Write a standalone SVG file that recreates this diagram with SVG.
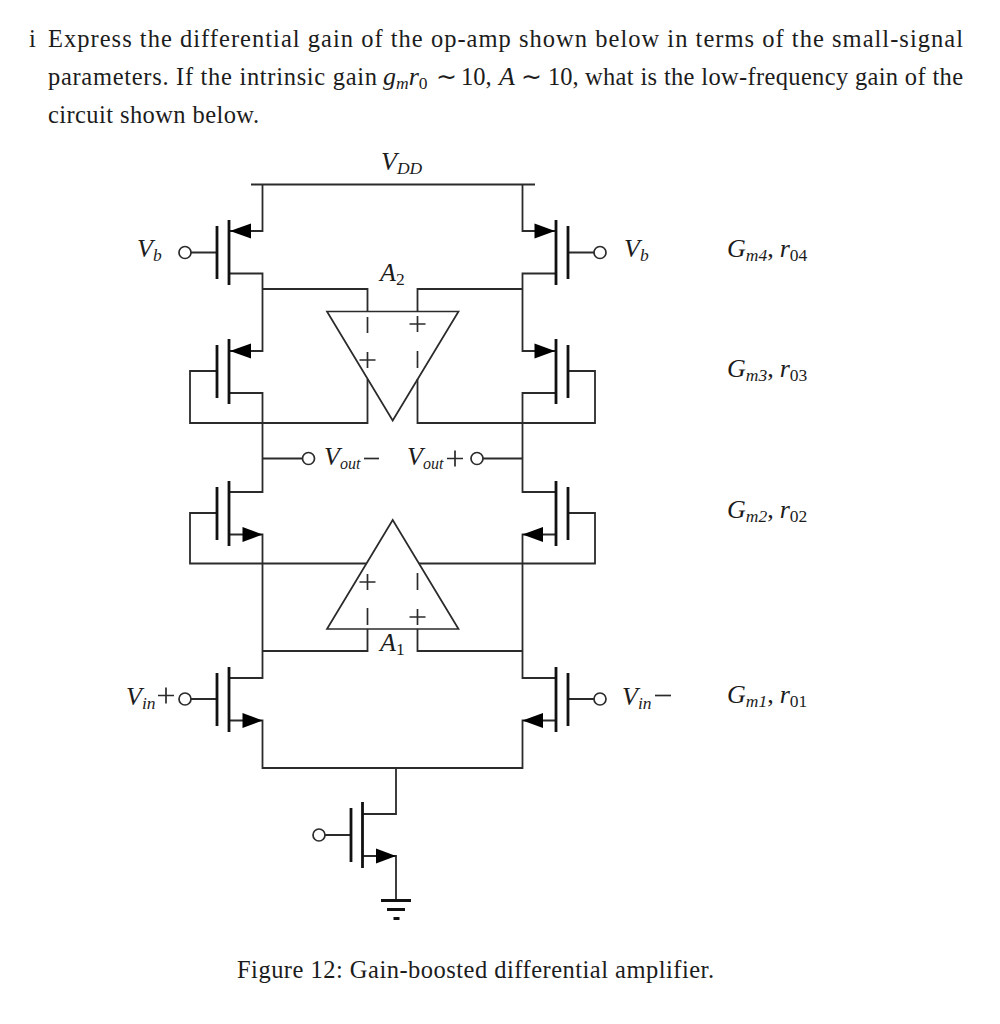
<svg xmlns="http://www.w3.org/2000/svg" width="1000" height="1024" viewBox="0 0 1000 1024">
<style>
text{font-family:"Liberation Serif","Times New Roman",serif;fill:#1c1c1c;font-size:24.5px}
.i{font-style:italic;font-size:26px}
.s{font-size:17.5px}
.o{font-size:16px}
.w{fill:none;stroke:#2b2b2b;stroke-width:1.8;stroke-linejoin:miter}
.p{fill:none;stroke:#111;stroke-width:2.8}
.c{fill:#fff;stroke:#2b2b2b;stroke-width:1.7}
.a{fill:#000}
.t{fill:none;stroke:#2b2b2b;stroke-width:1.7}
</style>
<defs>
<g id="chL"><path class="p" d="M229 0V65M217 6V59"/></g>
<g id="chR"><path class="p" d="M556 0V65M568 6V59"/></g>
</defs>
<rect width="1000" height="1024" fill="#fff"/>
<g id="question">
<text x="29" y="47">i</text>
<text x="48" y="47" textLength="915" lengthAdjust="spacing">Express the differential gain of the op-amp shown below in terms of the small-signal</text>
<text x="48" y="85" textLength="329" lengthAdjust="spacing">parameters. If the intrinsic gain</text>
<text x="383" y="85" class="i">g<tspan class="s" dy="4">m</tspan><tspan dy="-4">r</tspan><tspan class="s" dy="4" font-style="normal">0</tspan></text>
<text x="436" y="85">∼</text>
<text x="461" y="85">10,</text>
<text x="499" y="85" class="i">A</text>
<text x="521" y="85">∼</text>
<text x="548" y="85">10,</text>
<text x="585" y="85" textLength="378" lengthAdjust="spacing">what is the low-frequency gain of the</text>
<text x="48" y="123" textLength="211" lengthAdjust="spacing">circuit shown below.</text>
</g>
<g id="connectors">
<path class="w" d="M251 184.5H535M262.5 184.5V231H229M522.5 184.5V231H556"/>
<path class="w" d="M229 273.5H262.5V351H229M556 273.5H522.5V351H556"/>
<path class="w" d="M262.5 289H367.5V311M522.5 289H417.5V311"/>
<path class="w" d="M229 393H262.5V492H229M556 393H522.5V492H556"/>
<path class="w" d="M217 371H190V423H367.5V379M568 371H595V423H417.5V379"/>
<path class="w" d="M262.5 458.5H302M522.5 458.5H483"/>
<path class="w" d="M229 534.5H262.5V678H229M556 534.5H522.5V678H556"/>
<path class="w" d="M217 513H190V563.5H366M568 513H595V563.5H419"/>
<path class="w" d="M262.5 651H367.5V629M522.5 651H417.5V629"/>
<path class="w" d="M229 720.5H262.5V768H522.5V720.5H556"/>
<path class="w" d="M396 768V814H362.5M362.5 856H396V900.5"/>
<path class="w" d="M217 252.5H191M568 252.5H594M217 699H191M568 699H594M351 835H325"/>
<path class="p" d="M381 900.5H411M387 909.5H405M393.5 918.5H399.5"/>
</g>
<g id="M4L"><use href="#chL" y="220"/><path class="a" d="M230 231L251 223.5V238.5Z"/><circle class="c" cx="185" cy="252.5" r="6"/></g>
<g id="M4R"><use href="#chR" y="220"/><path class="a" d="M555 231L534.5 223.5V238.5Z"/><circle class="c" cx="600" cy="252.5" r="6"/></g>
<g id="M3L"><use href="#chL" y="339"/><path class="a" d="M230 351L251 343.5V358.5Z"/></g>
<g id="M3R"><use href="#chR" y="339"/><path class="a" d="M555 351L534.5 343.5V358.5Z"/></g>
<g id="M2L"><use href="#chL" y="481"/><path class="a" d="M262.5 534.5L242.5 527V542Z"/></g>
<g id="M2R"><use href="#chR" y="481"/><path class="a" d="M522.5 534.5L543 527V542Z"/></g>
<g id="M1L"><use href="#chL" y="667"/><path class="a" d="M262.5 720.5L242.5 713V728Z"/><circle class="c" cx="185" cy="699" r="6"/></g>
<g id="M1R"><use href="#chR" y="667"/><path class="a" d="M522.5 720.5L543 713V728Z"/><circle class="c" cx="600" cy="699" r="6"/></g>
<g id="Mtail"><path class="p" d="M362.5 802V868M351 808V862"/><path class="a" d="M396 856L376 848.5V863.5Z"/><circle class="c" cx="319" cy="835" r="6"/></g>
<g id="A2"><path class="t" d="M327 311.5H458.5L392.7 420.5Z"/><path class="t" d="M367.5 317V333M409.5 324H425.5M417.5 316V332M359.5 360H375.5M367.5 352V368M417.5 351V368"/></g>
<g id="A1"><path class="t" d="M327 629H458.5L392.7 520Z"/><path class="t" d="M367.5 608V625M409.5 617H425.5M417.5 609V625M359.5 582H375.5M367.5 574V590M417.5 573V590"/></g>
<g id="Vout-neg"><circle class="c" cx="308.5" cy="458.5" r="6"/><text x="324" y="465" class="i">V<tspan class="o" dy="4">out</tspan></text><path class="t" d="M364 458.5H379"/></g>
<g id="Vout-pos"><circle class="c" cx="477" cy="458.5" r="6"/><text x="407" y="465" class="i">V<tspan class="o" dy="4">out</tspan></text><path class="t" d="M447 458.5H463M455 450.5V466.5"/></g>
<g id="labels">
<text x="381" y="170" class="i">V<tspan class="s" dy="4">DD</tspan></text>
<text x="137" y="257" class="i">V<tspan class="s" dy="4">b</tspan></text>
<text x="624" y="257" class="i">V<tspan class="s" dy="4">b</tspan></text>
<text x="380" y="281" class="i">A<tspan class="s" dy="4" font-style="normal">2</tspan></text>
<text x="380" y="651" class="i">A<tspan class="s" dy="4" font-style="normal">1</tspan></text>
<text x="126" y="705" class="i">V<tspan class="s" dy="4">in</tspan></text>
<path class="t" d="M158 695.5H174M166 687.5V703.5"/>
<text x="622" y="705" class="i">V<tspan class="s" dy="4">in</tspan></text>
<path class="t" d="M655 695.5H671"/>
<text x="727" y="257" class="i">G<tspan class="s" dy="4">m4</tspan><tspan dy="-4" font-style="normal">,</tspan><tspan dx="6">r</tspan><tspan class="s" dy="4" font-style="normal">04</tspan></text>
<text x="727" y="377" class="i">G<tspan class="s" dy="4">m3</tspan><tspan dy="-4" font-style="normal">,</tspan><tspan dx="6">r</tspan><tspan class="s" dy="4" font-style="normal">03</tspan></text>
<text x="727" y="518" class="i">G<tspan class="s" dy="4">m2</tspan><tspan dy="-4" font-style="normal">,</tspan><tspan dx="6">r</tspan><tspan class="s" dy="4" font-style="normal">02</tspan></text>
<text x="727" y="703" class="i">G<tspan class="s" dy="4">m1</tspan><tspan dy="-4" font-style="normal">,</tspan><tspan dx="6">r</tspan><tspan class="s" dy="4" font-style="normal">01</tspan></text>
<text x="237" y="978" textLength="477" lengthAdjust="spacing">Figure 12: Gain-boosted differential amplifier.</text>
</g>
</svg>
